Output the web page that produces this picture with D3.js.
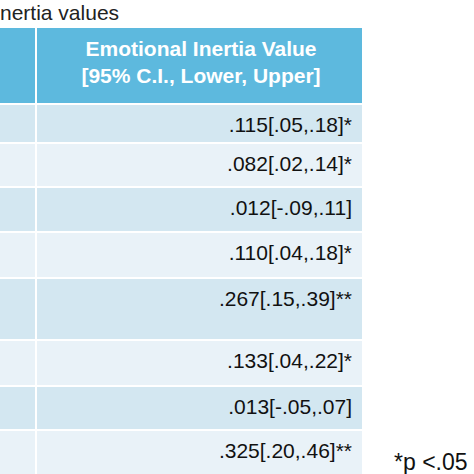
<!DOCTYPE html>
<html><head><meta charset="utf-8">
<script src="https://cdn.jsdelivr.net/npm/d3@7"></script>
<style>body{margin:0;background:#fff}</style>
</head><body>
<svg id="chart" width="474" height="474"></svg>
<script>
// table values
var values = ['.115[.05,.18]*', '.082[.02,.14]*', '.012[-.09,.11]', '.110[.04,.18]*',
	'.267[.15,.39]**', '.133[.04,.22]*', '.013[-.05,.07]', '.325[.20,.46]**'];
// row boundaries (px)
var rowEdges = [105, 144, 188, 233, 279, 341, 387, 431, 476];
var headerLines = ['Emotional Inertia Value', '[95% C.I., Lower, Upper]'];

var svg = d3.select('#chart');
var font = 'Liberation Sans, Arial, sans-serif';

svg.append('text').attr('x', 0).attr('y', 20).attr('font-family', font)
	.attr('font-size', 21).attr('fill', '#222').text('nertia values');

// header
svg.append('rect').attr('x', 0).attr('y', 28).attr('width', 362).attr('height', 75).attr('fill', '#5db9de');
svg.selectAll('.hdr').data(headerLines).enter().append('text')
	.attr('x', 201).attr('y', function (d, i) { return 56 + i * 27; })
	.attr('text-anchor', 'middle').attr('font-family', font).attr('font-weight', 'bold')
	.attr('font-size', 21).attr('fill', '#fff').text(function (d) { return d; });

// body rows
var rows = svg.selectAll('.row').data(values).enter().append('g');
rows.append('rect').attr('x', 0).attr('width', 362)
	.attr('y', function (d, i) { return rowEdges[i]; })
	.attr('height', function (d, i) { return rowEdges[i + 1] - rowEdges[i] - 2; })
	.attr('fill', function (d, i) { return i % 2 ? '#e9f2f8' : '#d3e7f1'; });
rows.append('text').attr('x', 352).attr('text-anchor', 'end')
	.attr('y', function (d, i) { return rowEdges[i] + 27; })
	.attr('font-family', font).attr('font-size', 21).attr('fill', '#111')
	.text(function (d) { return d; });

// column divider
svg.append('rect').attr('x', 35).attr('y', 28).attr('width', 2).attr('height', 446).attr('fill', '#fff');

svg.append('text').attr('x', 394).attr('y', 470).attr('font-family', font)
	.attr('font-size', 23).attr('fill', '#111').text('*p <.05');
</script>
</body></html>
